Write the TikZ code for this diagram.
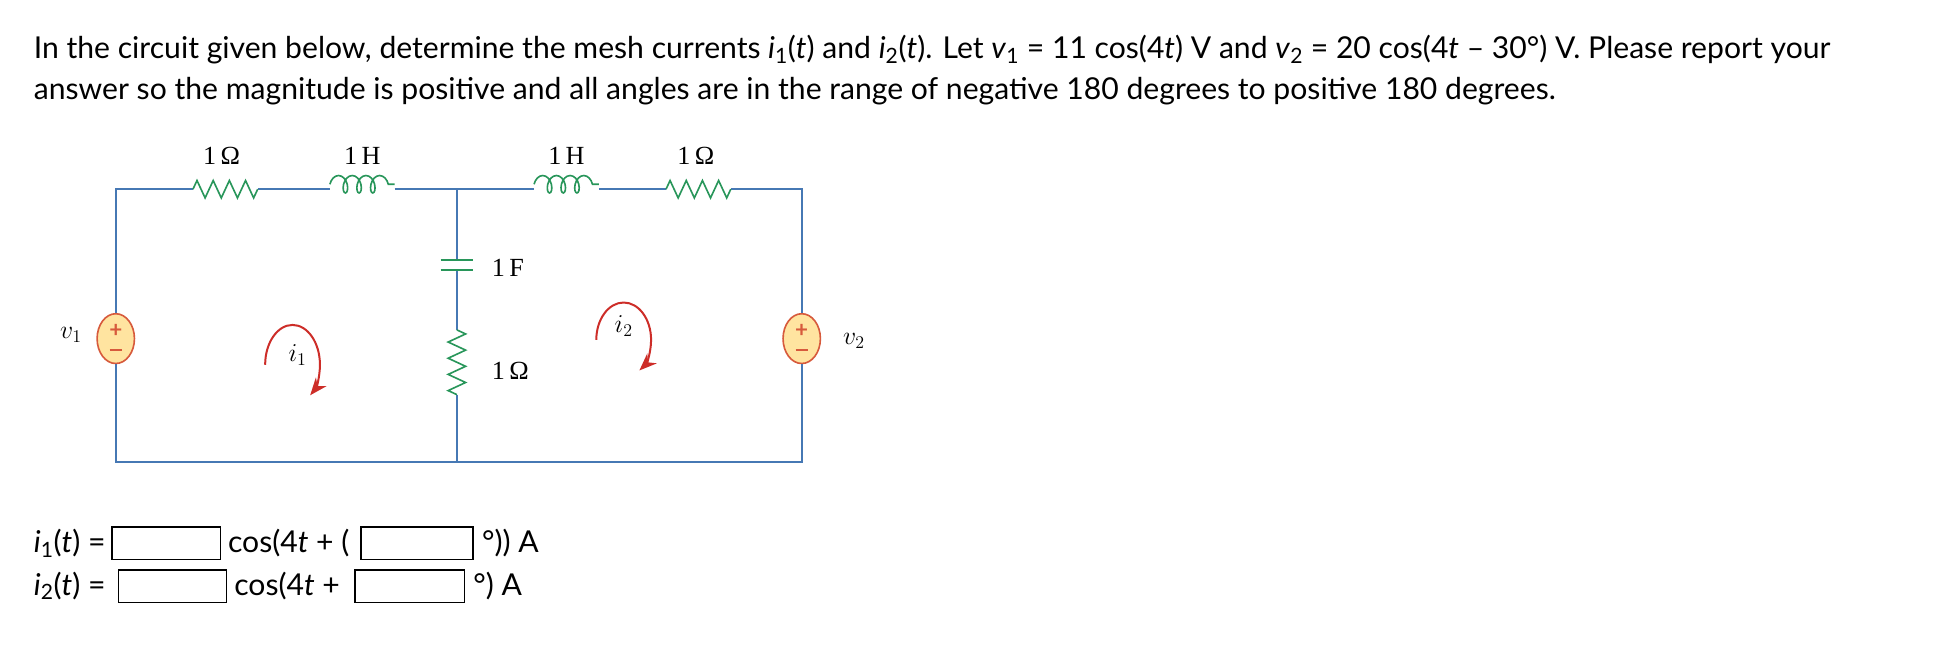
\documentclass[tikz,border=0pt]{standalone}
\usepackage{fontspec}
\setmainfont{Lato}
\newfontfamily\ser{Liberation Serif}
\usetikzlibrary{decorations.pathmorphing,arrows.meta,shapes.geometric}
\definecolor{wire}{RGB}{70,120,180}
\definecolor{comp}{RGB}{40,150,90}
\definecolor{srcfill}{RGB}{255,228,160}
\definecolor{srcline}{RGB}{215,90,60}
\definecolor{arr}{RGB}{205,45,40}
\newcommand{\mysb}[1]{\textsubscript{#1}}
\begin{document}
\begin{tikzpicture}[x=1pt,y=-1pt,
  wirel/.style={draw=wire,line width=1.3pt},
  resz/.style={draw=comp,line width=1.3pt,decorate,decoration={zigzag,segment length=13pt,amplitude=7pt}},
  coilz/.style={draw=comp,line width=1.3pt,decorate,decoration={coil,aspect=0.6,segment length=11pt,amplitude=7pt}},
  lbl/.style={font=\ser\fontsize{21}{24}\selectfont},
  txt/.style={font=\fontsize{24.2}{28}\selectfont,anchor=base west,inner sep=0},
  ansbox/.style={draw=black,line width=1.2pt,minimum height=26pt,inner sep=0},
  src/.style={ellipse,draw=srcline,fill=srcfill,line width=1.3pt,minimum width=30pt,minimum height=40pt,inner sep=0},
  mesh/.style={draw=arr,line width=1.6pt,-{Stealth[length=14pt,width=11pt]}}]
\path[use as bounding box] (0,0) rectangle (1568,527);
\fill[white] (0,0) rectangle (1568,527);
\node[txt] (t1) at (27,47) {In the circuit given below, determine the mesh currents \textit{i}\mysb{1}(\textit{t}) and \textit{i}\mysb{2}(\textit{t}). Let \textit{v}\mysb{1} = 11 cos(4\textit{t}) V and \textit{v}\mysb{2} = 20 cos(4\textit{t} -- 30°) V. Please report your};
\node[txt] (t2) at (27,80) {answer so the magnitude is positive and all angles are in the range of negative 180 degrees to positive 180 degrees.};
% corners
\coordinate (tl) at (93,152); \coordinate (tm) at (367,152); \coordinate (tr) at (644,152);
\coordinate (bl) at (93,371); \coordinate (bm) at (367,371); \coordinate (br) at (644,371);
\coordinate (r1a) at (155,152); \coordinate (r1b) at (207,152);
\coordinate (l1a) at (265,148); \coordinate (l1b) at (317,148);
\coordinate (l2a) at (429,148); \coordinate (l2b) at (481,148);
\coordinate (r2a) at (535,152); \coordinate (r2b) at (587,152);
\coordinate (ca) at (367,209); \coordinate (cb) at (367,217);
\coordinate (r3a) at (367,265); \coordinate (r3b) at (367,317);
\node[src] (s1) at (93,272) {};
\node[src] (s2) at (644,272) {};
\foreach \s in {s1,s2}{
  \node[text=srcline,font=\bfseries\fontsize{18}{18}\selectfont] at ([yshift=6pt]\s.center) {+};
  \draw[srcline,line width=1.6pt] ([xshift=-5pt,yshift=-9pt]\s.center) -- ([xshift=5pt,yshift=-9pt]\s.center);}
% wires
\draw[wirel] (s1.north) -- (tl) -- (r1a);
\draw[wirel] (r1b) -- (265,152);
\draw[wirel] (317,152) -- (429,152);
\draw[wirel] (481,152) -- (r2a);
\draw[wirel] (r2b) -- (tr) -- (s2.north);
\draw[wirel] (s1.south) -- (bl) -- (br) -- (s2.south);
\draw[wirel] (tm) -- (ca); \draw[wirel] (cb) -- (r3a); \draw[wirel] (r3b) -- (bm);
% components
\draw[resz] (r1a) -- (r1b);
\draw[resz] (r2a) -- (r2b);
\draw[resz] (r3a) -- (r3b);
\draw[coilz] (l1a) -- (l1b);
\draw[coilz] (l2a) -- (l2b);
\draw[comp,line width=1.4pt] (354,209) -- (380,209) (354,217) -- (380,217);
% labels
\node[lbl] (lr1) at (178,125) {1\,Ω};
\node[lbl] (ll1) at (291,125) {1\,H};
\node[lbl] (ll2) at (455,125) {1\,H};
\node[lbl] (lr2) at (559,125) {1\,Ω};
\node[lbl] (lc) at (408,215) {1\,F};
\node[lbl] (lr3) at (410,298) {1\,Ω};
\node[lbl] (lv1) at (57,269) {$v_1$};
\node[lbl] (lv2) at (686,274) {$v_2$};
% mesh currents
\draw[mesh] (213,293) arc[start angle=180,end angle=-50,x radius=22pt,y radius=32pt];
\node[lbl] (li1) at (239,285) {$i_1$};
\draw[mesh] (479,273) arc[start angle=180,end angle=-55,x radius=22pt,y radius=30pt];
\node[lbl] (li2) at (501,262) {$i_2$};
% answers
\node[txt] (a1) at (27,444) {\textit{i}\mysb{1}(\textit{t}) =};
\node[ansbox,minimum width=87pt] (b1) at (133.5,436.5) {};
\node[txt] (a2) at (183,444) {cos(4\textit{t} + (};
\node[ansbox,minimum width=90pt] (b2) at (335,436.5) {};
\node[txt] (a3) at (387,444) {°)) A};
\node[txt] (a4) at (27,478) {\textit{i}\mysb{2}(\textit{t}) =};
\node[ansbox,minimum width=87pt] (b3) at (138.5,471) {};
\node[txt] (a5) at (188,478) {cos(4\textit{t} + };
\node[ansbox,minimum width=88pt] (b4) at (329,471) {};
\node[txt] (a6) at (380,478) {°) A};
\end{tikzpicture}
\end{document}
